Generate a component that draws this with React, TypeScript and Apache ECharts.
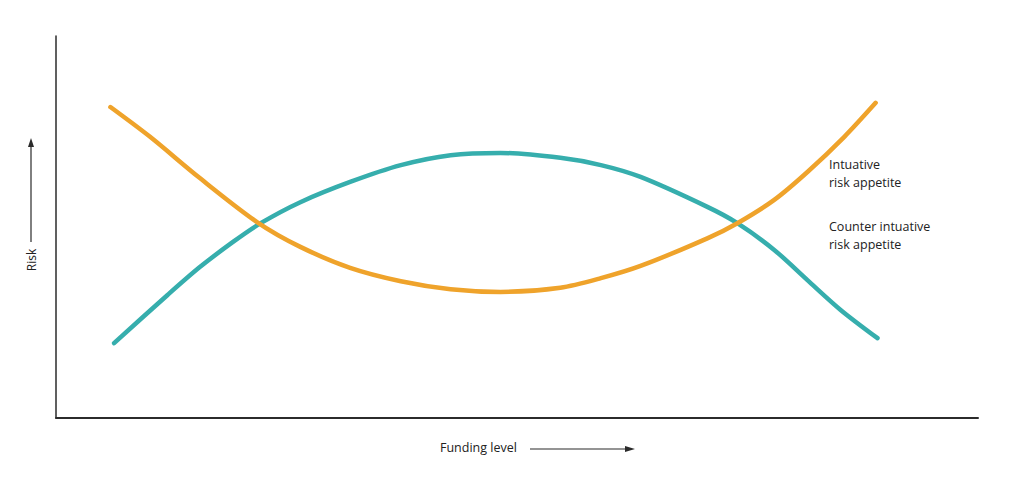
import React, { useEffect, useRef } from "react";
import * as echarts from "echarts";

// funding level (0-100) against risk (0-100)
const intuativeFunding = [5.9, 10.2, 15.6, 21.8, 26.5, 31.9, 37.4, 42.8, 48.2, 54.7, 59.1, 63.4, 70.7, 73.9, 77.9, 81.5, 85.5, 88.9];
const intuativeRisk = [81.4, 73.6, 62.8, 51.3, 44.8, 39.3, 35.8, 33.7, 33.0, 34.1, 36.6, 39.8, 47.1, 51.0, 57.1, 64.4, 73.6, 82.5];
const counterFunding = [6.3, 12.1, 15.6, 19.2, 22.2, 26.5, 31.9, 37.4, 42.8, 48.2, 54.7, 59.1, 63.4, 70.7, 73.9, 77.9, 81.5, 85.1, 89.1];
const counterRisk = [19.6, 32.2, 39.5, 46.1, 51.0, 56.5, 61.8, 66.2, 68.8, 69.4, 68.1, 66.2, 63.1, 55.2, 51.0, 44.0, 36.1, 28.3, 20.9];

const seriesNames = ["Intuative\nrisk appetite", "Counter intuative\nrisk appetite"];
const axisTitles = ["Risk", "Funding level"];

const ORANGE = "#EFA32B";
const TEAL = "#36AEAD";
const INK = "#2b2b2b";
const FONT = "'Open Sans', 'Liberation Sans', sans-serif";

export default function App() {
  const chartRef = useRef<HTMLDivElement>(null);

  useEffect(() => {
    document.body.style.margin = "0";
    if (!chartRef.current) return;
    const chart = echarts.init(chartRef.current, null, { renderer: "svg" });

    const toPairs = (xs: number[], ys: number[]) => xs.map((x, i) => [x, ys[i]]);

    chart.setOption({
      animation: false,
      backgroundColor: "#ffffff",
      grid: { left: 56, right: 46, top: 36, bottom: 83 },
      xAxis: {
        type: "value",
        min: 0,
        max: 100,
        axisLine: { show: true, lineStyle: { color: INK, width: 2 } },
        axisTick: { show: false },
        axisLabel: { show: false },
        splitLine: { show: false },
      },
      yAxis: {
        type: "value",
        min: 0,
        max: 100,
        axisLine: { show: true, lineStyle: { color: INK, width: 1.5 } },
        axisTick: { show: false },
        axisLabel: { show: false },
        splitLine: { show: false },
      },
      series: [
        {
          name: seriesNames[0],
          type: "line",
          smooth: 0.3,
          showSymbol: false,
          data: toPairs(intuativeFunding, intuativeRisk),
          lineStyle: { color: ORANGE, width: 4.5, cap: "round" },
          z: 3,
        },
        {
          name: seriesNames[1],
          type: "line",
          smooth: 0.3,
          showSymbol: false,
          data: toPairs(counterFunding, counterRisk),
          lineStyle: { color: TEAL, width: 4.5, cap: "round" },
          z: 2,
        },
      ],
      graphic: [
        {
          type: "text",
          left: 829,
          top: 155,
          style: { text: seriesNames[0], font: `12.5px ${FONT}`, fill: "#222", lineHeight: 18 },
        },
        {
          type: "text",
          left: 829,
          top: 217,
          style: { text: seriesNames[1], font: `12.5px ${FONT}`, fill: "#222", lineHeight: 18 },
        },
        {
          type: "text",
          x: 31,
          y: 260,
          rotation: Math.PI / 2,
          style: {
            text: axisTitles[0],
            font: `12px ${FONT}`,
            fill: "#222",
            align: "center",
            verticalAlign: "middle",
          },
        },
        {
          type: "line",
          shape: { x1: 31, y1: 242, x2: 31, y2: 146 },
          style: { stroke: INK, lineWidth: 1.2 },
        },
        {
          type: "polygon",
          shape: { points: [[31, 138], [28, 147], [34, 147]] },
          style: { fill: INK },
        },
        {
          type: "text",
          x: 440,
          y: 447,
          style: {
            text: axisTitles[1],
            font: `12.5px ${FONT}`,
            fill: "#222",
            verticalAlign: "middle",
          },
        },
        {
          type: "line",
          shape: { x1: 530, y1: 449, x2: 626, y2: 449 },
          style: { stroke: INK, lineWidth: 1.2 },
        },
        {
          type: "polygon",
          shape: { points: [[635, 449], [625, 446], [625, 452]] },
          style: { fill: INK },
        },
      ],
    });

    return () => chart.dispose();
  }, []);

  return <div ref={chartRef} style={{ width: 1024, height: 501 }} />;
}
